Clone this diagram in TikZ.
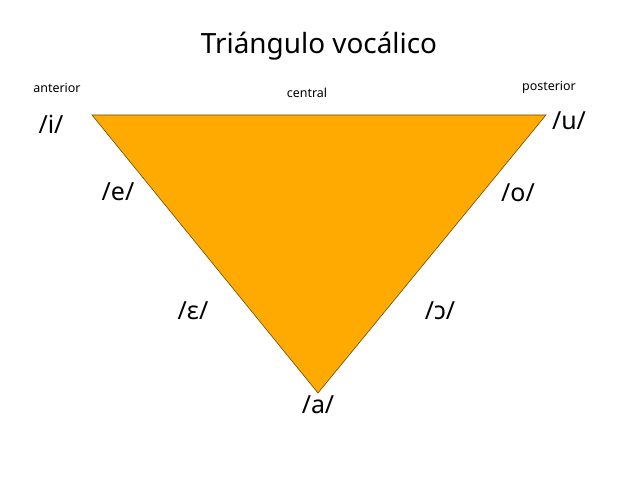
\documentclass[tikz,border=0pt]{standalone}
\usepackage{fontspec}
\setmainfont{Noto Sans}
\definecolor{vocalfill}{RGB}{255,170,0}
\definecolor{vocaledge}{RGB}{110,75,10}
\tikzset{
    vowel/.style={font=\fontsize{25}{29}\selectfont, inner sep=0pt},
    place/.style={font=\fontsize{12.5}{15}\selectfont, inner sep=0pt},
}
\begin{document}
\begin{tikzpicture}[x=1bp,y=-1bp]
    \useasboundingbox (0,0) rectangle (638,479);
    % vertices of the triangle
    \coordinate (i) at (92,115);
    \coordinate (u) at (546,115);
    \coordinate (a) at (318,393);
    \draw[vocaledge,fill=vocalfill,line width=0.6bp] (i) -- (u) -- (a) -- cycle;
    \node[font=\fontsize{28}{32}\selectfont] (title) at (319,46) {Triángulo vocálico};
    \node[place] (anterior) at (57,88) {anterior};
    \node[place] (central) at (307,93) {central};
    \node[place] (posterior) at (549,87) {posterior};
    \node[vowel] (vi) at (51,124) {/i/};
    \node[vowel] (vu) at (569,121) {/u/};
    \node[vowel] (ve) at (118,192) {/e/};
    \node[vowel] (vo) at (518,193) {/o/};
    \node[vowel] (veps) at (193,311) {/ɛ/};
    \node[vowel] (vopen) at (440,311) {/ɔ/};
    \node[vowel] (va) at (318,405) {/a/};
\end{tikzpicture}
\end{document}
